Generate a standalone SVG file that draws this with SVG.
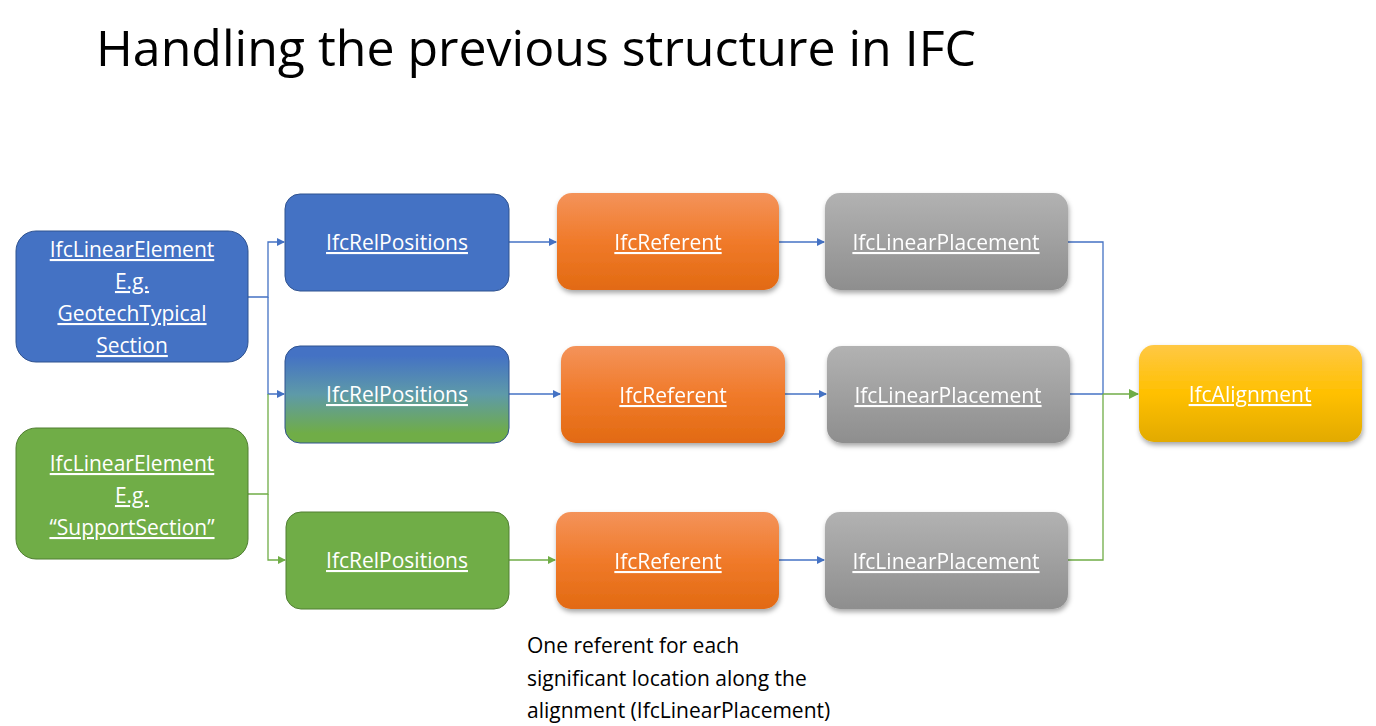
<svg xmlns="http://www.w3.org/2000/svg" width="1376" height="726" viewBox="0 0 1376 726">
<style>
.t{font-family:"Open Sans","Liberation Sans",sans-serif;font-size:21px;fill:#fff;text-anchor:middle;text-decoration:underline}
.b{stroke:#4472C4;stroke-width:1.3;fill:none}
.g{stroke:#70AD47;stroke-width:1.3;fill:none}
.sh{filter:url(#sd)}
</style>
<defs>
<linearGradient id="og" x1="0" y1="0" x2="0" y2="1"><stop offset="0" stop-color="#F4935A"/><stop offset="0.5" stop-color="#F07A2A"/><stop offset="1" stop-color="#E26A12"/></linearGradient>
<linearGradient id="gg" x1="0" y1="0" x2="0" y2="1"><stop offset="0" stop-color="#B2B2B2"/><stop offset="1" stop-color="#8E8E8E"/></linearGradient>
<linearGradient id="yg" x1="0" y1="0" x2="0" y2="1"><stop offset="0" stop-color="#FFC844"/><stop offset="0.5" stop-color="#FFC000"/><stop offset="1" stop-color="#E2AA00"/></linearGradient>
<linearGradient id="bg" x1="0" y1="0" x2="0" y2="1"><stop offset="0.1" stop-color="#4472C4"/><stop offset="0.5" stop-color="#5E9AA8"/><stop offset="0.9" stop-color="#70AD47"/></linearGradient>
<filter id="sd" x="-10%" y="-10%" width="125%" height="130%"><feDropShadow dx="1" dy="3" stdDeviation="2.5" flood-color="#000" flood-opacity="0.35"/></filter>
<marker id="ab" markerWidth="8" markerHeight="8" refX="7" refY="4" orient="auto" markerUnits="userSpaceOnUse"><path d="M0,0 L8,4 L0,8 Z" fill="#4472C4"/></marker>
<marker id="ag" markerWidth="8" markerHeight="8" refX="7" refY="4" orient="auto" markerUnits="userSpaceOnUse"><path d="M0,0 L8,4 L0,8 Z" fill="#70AD47"/></marker>
<marker id="ag2" markerWidth="10" markerHeight="10" refX="9" refY="5" orient="auto" markerUnits="userSpaceOnUse"><path d="M0,0 L10,5 L0,10 Z" fill="#70AD47"/></marker>
</defs>
<rect width="1376" height="726" fill="#fff"/>
<text x="96" y="66" font-family="'Open Sans','Liberation Sans',sans-serif" font-size="50" fill="#000">Handling the previous structure in IFC</text>

<g id="connectors">
<path class="b" d="M248,297 H268 V242 H284" marker-end="url(#ab)"/>
<path class="b" d="M268,297 V394 H284" marker-end="url(#ab)"/>
<path class="g" d="M248,494 H268 V394"/>
<path class="g" d="M268,494 V560 H285" marker-end="url(#ag)"/>
<path class="b" d="M509,242 H556" marker-end="url(#ab)"/>
<path class="b" d="M509,394 H560" marker-end="url(#ab)"/>
<path class="g" d="M509,560 H555" marker-end="url(#ag)"/>
<path class="b" d="M779,242 H824" marker-end="url(#ab)"/>
<path class="b" d="M785,394 H826" marker-end="url(#ab)"/>
<path class="b" d="M779,560 H824" marker-end="url(#ab)"/>
<path class="b" d="M1068,242 H1103 V394"/>
<path class="b" d="M1070,394 H1103"/>
<path class="g" d="M1068,560 H1103 V394"/>
<path stroke="#70AD47" stroke-width="1.6" fill="none" d="M1103,394 H1138" marker-end="url(#ag2)"/>
</g>

<g id="le1"><rect x="16" y="231" width="232" height="131" rx="20" fill="#4472C4" stroke="#2F528F"/>
<text class="t"><tspan x="132" y="257">IfcLinearElement</tspan><tspan x="132" y="289">E.g.</tspan><tspan x="132" y="321">GeotechTypical</tspan><tspan x="132" y="353" style="text-decoration:none">Section</tspan></text></g>
<g id="le2"><rect x="16" y="428" width="232" height="131" rx="20" fill="#70AD47" stroke="#507E32"/>
<text class="t"><tspan x="132" y="471">IfcLinearElement</tspan><tspan x="132" y="503">E.g.</tspan><tspan x="132" y="535">“SupportSection”</tspan></text></g>

<g id="rp1"><rect x="285" y="194" width="224" height="97" rx="15" fill="#4472C4" stroke="#2F528F"/><text class="t" x="397" y="250">IfcRelPositions</text></g>
<g id="rp2"><rect x="285" y="346" width="224" height="97" rx="15" fill="url(#bg)" stroke="#2F528F"/><text class="t" x="397" y="402">IfcRelPositions</text></g>
<g id="rp3"><rect x="286" y="512" width="223" height="97" rx="15" fill="#70AD47" stroke="#507E32"/><text class="t" x="397" y="568">IfcRelPositions</text></g>

<g id="ref1" class="sh"><rect x="557" y="193" width="222" height="97" rx="15" fill="url(#og)"/><text class="t" x="668" y="250">IfcReferent</text></g>
<g id="ref2" class="sh"><rect x="561" y="346" width="224" height="97" rx="15" fill="url(#og)"/><text class="t" x="673" y="403">IfcReferent</text></g>
<g id="ref3" class="sh"><rect x="556" y="512" width="223" height="97" rx="15" fill="url(#og)"/><text class="t" x="668" y="569">IfcReferent</text></g>

<g id="lp1" class="sh"><rect x="825" y="193" width="243" height="97" rx="15" fill="url(#gg)"/><text class="t" x="946" y="250">IfcLinearPlacement</text></g>
<g id="lp2" class="sh"><rect x="827" y="346" width="243" height="97" rx="15" fill="url(#gg)"/><text class="t" x="948" y="403">IfcLinearPlacement</text></g>
<g id="lp3" class="sh"><rect x="825" y="512" width="243" height="97" rx="15" fill="url(#gg)"/><text class="t" x="946" y="569">IfcLinearPlacement</text></g>

<g id="align" class="sh"><rect x="1139" y="345" width="223" height="97" rx="15" fill="url(#yg)"/><text class="t" x="1250" y="402">IfcAlignment</text></g>

<g id="note"><text font-family="'Open Sans','Liberation Sans',sans-serif" font-size="21" fill="#000"><tspan x="527" y="653">One referent for each</tspan><tspan x="527" y="686">significant location along the</tspan><tspan x="527" y="718">alignment (IfcLinearPlacement)</tspan></text></g>
</svg>
